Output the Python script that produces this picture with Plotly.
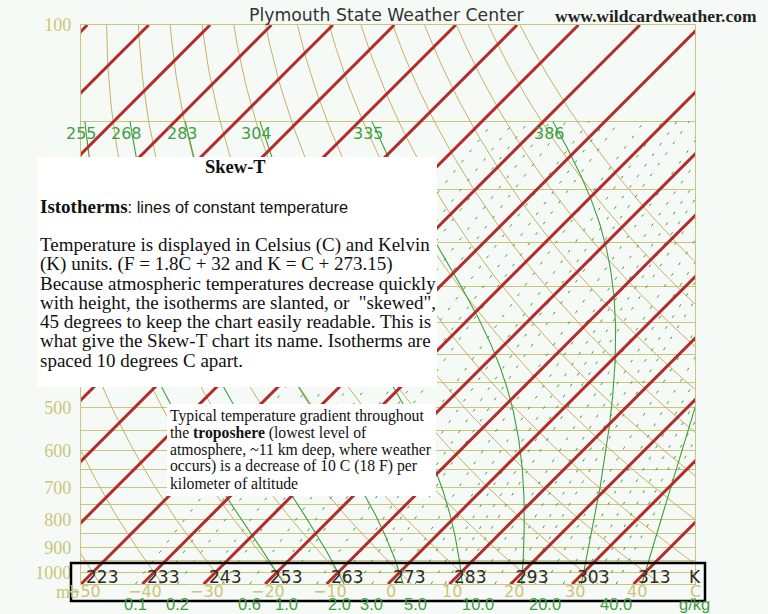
import numpy as np
import plotly.graph_objects as go

# chart values
isotherms = list(range(-140, 50, 10))            # deg C
dry_adiabats = list(range(-60, 130, 10))         # theta in deg C
moist_tw = [-20, -10, 0, 10, 20, 30, 40]         # wet-bulb potential temp, deg C
theta_labels = ["255", "268", "283", "304", "335", "386"]
mix_lines = [0.1, 0.15, 0.2, 0.3, 0.4, 0.6, 0.8, 1.0, 1.5, 2.0, 2.5, 3.0, 4.0, 5.0,
             6.0, 7.0, 8.0, 10.0, 12.0, 14.0, 16.0, 20.0, 24.0, 28.0, 32.0, 36.0, 40.0]
mix_labels = [0.1, 0.2, 0.6, 1.0, 2.0, 3.0, 5.0, 10.0, 20.0, 40.0]
pressure_levels = list(range(100, 1001, 50))
pressure_labels = {100: "100", 500: "500", 600: "600", 700: "700",
                   800: "800", 900: "900", 1000: "1000"}
celsius_labels = [-50, -40, -30, -20, -10, 0, 10, 20, 30, 40]
kelvin_labels = [223, 233, 243, 253, 263, 273, 283, 293, 303, 313]

box1_lines = [
    "Temperature is displayed in Celsius (C) and Kelvin",
    "(K) units. (F = 1.8C + 32 and K = C + 273.15)",
    "Because atmospheric temperatures decrease quickly",
    "with height, the isotherms are slanted, or  \"skewed\",",
    "45 degrees to keep the chart easily readable. This is",
    "what give the Skew-T chart its name. Isotherms are",
    "spaced 10 degrees C apart.",
]
box2_lines = [
    "Typical temperature gradient throughout",
    "the <b>troposhere</b> (lowest level of",
    "atmosphere, ~11 km deep, where weather",
    "occurs) is a decrease of 10 C (18 F) per",
    "kilometer of altitude",
]

P_BOT, P_TOP = 1050.0, 100.0
SKEW = 38.71
W, H = 768, 614
ML, MR, MT, MB = 81, 73, 25, 30

OLIVE = "#cbc47a"
TAN = "#c9b064"
RED = "#b32b2b"
GREEN = "#3f9e3f"


def skx(t, p):
    return t + SKEW * np.log(P_BOT / np.asarray(p, dtype=float))


def px(x):
    return (x - ML) / (W - ML - MR)


def py(y):
    return (H - MB - y) / (H - MT - MB)


def es(tc):
    return 6.112 * np.exp(17.67 * tc / (tc + 243.5))


def t_of_w(w, p):
    e = w * p / (622.0 + w)
    l = np.log(e / 6.112)
    return 243.5 * l / (17.67 - l)


def moist(tw):
    rd, cp, lv = 287.04, 1005.7, 2.501e6

    def f(p, t):
        e = es(t - 273.15)
        rs = 0.622 * e / (p - e)
        return (rd * t + lv * rs) / (p * (cp + lv * lv * rs * 0.622 / (rd * t * t)))

    def run(p_end, dp):
        p, t = 1000.0, tw + 273.15
        ps, ts = [p], [t]
        while (p - p_end) * np.sign(-dp) > 1e-9:
            k1 = f(p, t)
            k2 = f(p + dp / 2, t + dp / 2 * k1)
            k3 = f(p + dp / 2, t + dp / 2 * k2)
            k4 = f(p + dp, t + dp * k3)
            t += dp / 6 * (k1 + 2 * k2 + 2 * k3 + k4)
            p += dp
            ps.append(p)
            ts.append(t)
        return ps, ts

    pu, tu = run(150.0, -2.0)
    pd, td = run(1050.0, 2.0)
    ps = pd[::-1] + pu[1:]
    ts = td[::-1] + tu[1:]
    return np.array(ps), np.array(ts) - 273.15


fig = go.Figure()

# dry adiabats
p_grid = np.geomspace(P_BOT, P_TOP, 80)
xs, ys = [], []
for th in dry_adiabats:
    t = (th + 273.15) * (p_grid / 1000.0) ** 0.2857 - 273.15
    xs += list(skx(t, p_grid)) + [None]
    ys += list(p_grid) + [None]
fig.add_trace(go.Scatter(x=xs, y=ys, mode="lines", line=dict(color=TAN, width=1),
                         hoverinfo="skip", showlegend=False))

# mixing ratio lines
p_mix = np.geomspace(P_BOT, 150.0, 60)
xs, ys = [], []
for w in mix_lines:
    xs += list(skx(t_of_w(w, p_mix), p_mix)) + [None]
    ys += list(p_mix) + [None]
fig.add_trace(go.Scatter(x=xs, y=ys, mode="lines",
                         line=dict(color=GREEN, width=1, dash="3px,10px"),
                         hoverinfo="skip", showlegend=False))

# moist adiabats
xs, ys = [], []
tops = []
for tw in moist_tw:
    ps, ts = moist(tw)
    xx = skx(ts, ps)
    xs += list(xx) + [None]
    ys += list(ps) + [None]
    tops.append(xx[-1])
fig.add_trace(go.Scatter(x=xs, y=ys, mode="lines", line=dict(color=GREEN, width=1.1),
                         hoverinfo="skip", showlegend=False))

# isotherms
xs, ys = [], []
for t in isotherms:
    xs += [skx(t, P_BOT), skx(t, P_TOP), None]
    ys += [P_BOT, P_TOP, None]
fig.add_trace(go.Scatter(x=xs, y=ys, mode="lines", line=dict(color=RED, width=3),
                         hoverinfo="skip", showlegend=False))

SANS = "DejaVu Sans"
ann = []
# theta labels at 150 mb (paper x so the leftmost one is not hidden)
for lab, xt in zip(theta_labels, tops):
    ann.append(dict(x=(xt - 0.5 + 50) / 100, xref="paper", y=np.log10(150), text=lab,
                    showarrow=False, xanchor="center", yanchor="top", yshift=-1,
                    font=dict(family=SANS, size=16, color=GREEN)))
# kelvin labels
for k in kelvin_labels:
    ann.append(dict(x=(k - 273) + 3.4, y=py(577), yref="paper", text=str(k), showarrow=False,
                    xanchor="center", yanchor="middle",
                    font=dict(family=SANS, size=17, color="#2a2a2a")))
ann.append(dict(x=50, y=py(577), yref="paper", text="K", showarrow=False,
                xanchor="center", yanchor="middle",
                font=dict(family=SANS, size=17, color="#2a2a2a")))
# celsius labels
for c in celsius_labels:
    ann.append(dict(x=c + 0.5, y=py(591), yref="paper", text=str(c).replace("-", "\u2212"),
                    showarrow=False, xanchor="center", yanchor="middle",
                    font=dict(family=SANS, size=16, color=OLIVE)))
ann.append(dict(x=50, y=py(591), yref="paper", text="C", showarrow=False,
                xanchor="center", yanchor="middle",
                font=dict(family=SANS, size=16, color=OLIVE)))
ann.append(dict(x=px(67), y=py(592), xref="paper", yref="paper", text="mb", showarrow=False,
                xanchor="center", yanchor="middle",
                font=dict(family="Liberation Sans Narrow", size=18, color=OLIVE)))
# mixing ratio labels
for w in mix_labels:
    ann.append(dict(x=float(skx(t_of_w(w, P_BOT), P_BOT)), y=py(604), yref="paper",
                    text=f"{w:.1f}", showarrow=False, xanchor="center", yanchor="middle",
                    font=dict(family="Liberation Sans", size=16.5, color=GREEN)))
ann.append(dict(x=px(694), y=py(604), xref="paper", yref="paper", text="g/kg",
                showarrow=False, xanchor="center", yanchor="middle",
                font=dict(family="Liberation Sans", size=16.5, color=GREEN)))

# titles
ann.append(dict(x=px(387), y=py(15), xref="paper", yref="paper",
                text="Plymouth State Weather Center", showarrow=False,
                xanchor="center", yanchor="middle",
                font=dict(family=SANS, size=17.3, color="#333333")))
ann.append(dict(x=px(656), y=py(16), xref="paper", yref="paper",
                text="<b>www.wildcardweather.com</b>", showarrow=False,
                xanchor="center", yanchor="middle",
                font=dict(family="Liberation Serif", size=17.5, color="#222222")))

# box 1 text
ann.append(dict(x=px(235), y=py(167), xref="paper", yref="paper", text="<b>Skew-T</b>",
                showarrow=False, xanchor="center", yanchor="middle",
                font=dict(family="Liberation Serif", size=18.5, color="#111111")))
ann.append(dict(x=px(38), y=py(206), xref="paper", yref="paper",
                text="<b>Istotherms</b><span style='font-family:Liberation Sans;font-size:16.4px'>: lines of constant temperature</span>",
                showarrow=False, xanchor="left", yanchor="middle",
                font=dict(family="Liberation Serif", size=19, color="#111111")))
for i, line in enumerate(box1_lines):
    ann.append(dict(x=px(38), y=py(245 + 19.2 * i), xref="paper", yref="paper", text=line,
                    showarrow=False, xanchor="left", yanchor="middle",
                    font=dict(family="Liberation Serif", size=19, color="#111111")))
for i, line in enumerate(box2_lines):
    ann.append(dict(x=px(168), y=py(416 + 16.8 * i), xref="paper", yref="paper", text=line,
                    showarrow=False, xanchor="left", yanchor="middle",
                    font=dict(family="Liberation Serif", size=15.7, color="#111111")))

shapes = [
    dict(type="rect", xref="paper", yref="paper", x0=px(37), x1=px(437), y0=py(387), y1=py(157),
         fillcolor="white", line=dict(width=0), layer="above"),
    dict(type="rect", xref="paper", yref="paper", x0=px(167), x1=px(436), y0=py(496), y1=py(404),
         fillcolor="white", line=dict(width=0), layer="above"),
    dict(type="rect", xref="paper", yref="paper", x0=px(71), x1=px(705), y0=py(601), y1=py(563),
         fillcolor="rgba(0,0,0,0)", line=dict(color="black", width=2.5), layer="above"),
]

fig.update_layout(
    width=W, height=H,
    margin=dict(l=ML, r=MR, t=MT, b=MB),
    paper_bgcolor="#f6faf6", plot_bgcolor="#f6faf6",
    annotations=ann, shapes=shapes, showlegend=False,
    xaxis=dict(range=[-50, 50], showgrid=False, zeroline=False, showticklabels=False,
               showline=True, mirror=True, linecolor=OLIVE, linewidth=1.2, fixedrange=True),
    yaxis=dict(type="log", range=[np.log10(P_BOT), np.log10(P_TOP)],
               tickvals=pressure_levels,
               ticktext=[pressure_labels.get(p, "") for p in pressure_levels],
               showgrid=True, gridcolor=OLIVE, gridwidth=1, zeroline=False,
               showline=True, mirror=True, linecolor=OLIVE, linewidth=1.2,
               ticks="", ticklabelstandoff=5,
               tickfont=dict(family="Liberation Sans Narrow", size=18, color=OLIVE)),
)

fig.write_html("out.html", config={"displayModeBar": False},
               post_script="document.body.style.margin='0px';")
